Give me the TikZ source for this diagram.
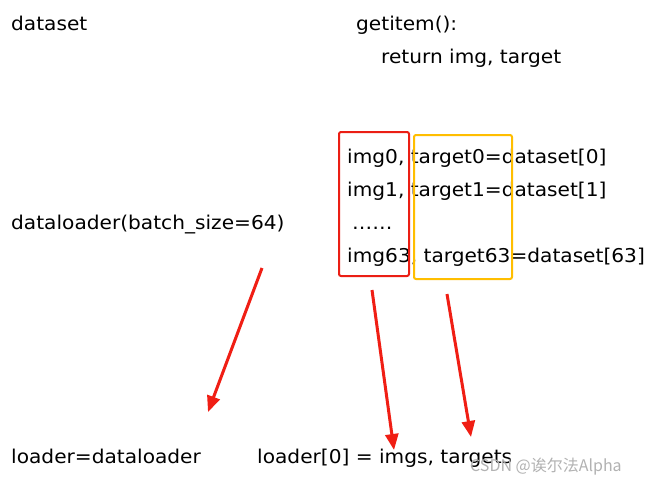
\documentclass[tikz,border=0pt]{standalone}
\usepackage{fontspec}
\setmainfont{DejaVu Sans}[FakeStretch=1.06]
\newfontfamily\cjk{Noto Sans CJK SC}
\usetikzlibrary{arrows.meta}
\begin{document}
\begin{tikzpicture}[x=1pt,y=-1pt,
  txt/.style={anchor=base west,inner sep=0pt,font=\fontsize{19}{21}\selectfont},
  bigarrow/.style={draw={rgb,255:red,240;green,30;blue,20},line width=3pt,-{Triangle[length=16pt,width=13pt]}},
  redbox/.style={draw={rgb,255:red,235;green,30;blue,20},line width=2pt,rounded corners=2pt},
  orbox/.style={draw={rgb,255:red,255;green,190;blue,0},line width=2pt,rounded corners=2pt}]
\useasboundingbox[fill=white] (0,0) rectangle (666,483);
\node[txt] (ds) at (11,30) {dataset};
\node[txt] (gi) at (356,30) {getitem():};
\node[txt] (ret) at (381,63) {return img, target};
\node[txt] (l0) at (347,163) {img0, target0=dataset[0]};
\node[txt] (l1) at (347,196) {img1, target1=dataset[1]};
\node[txt] (l2) at (352,229) {\ldots\ldots};
\node[txt] (l3) at (347,262) {img63, target63=dataset[63]};
\node[txt] (dl) at (11,229) {dataloader(batch\_size=64)};
\node[txt] (ld) at (11,463) {loader=dataloader};
\node[txt] (l0i) at (257,463) {loader[0] = imgs, targets};
\node[draw=none,anchor=base west,inner sep=0pt,text=gray!60,font=\cjk\fontsize{16}{18}\selectfont] (wm) at (470,471) {CSDN @诶尔法Alpha};
\draw[redbox] (339,132) rectangle (409,276);
\draw[orbox] (414,135) rectangle (512,279);
\coordinate (a1s) at (262,268); \coordinate (a1e) at (208,412);
\coordinate (a2s) at (372,290); \coordinate (a2e) at (394,450);
\coordinate (a3s) at (447,294); \coordinate (a3e) at (471,437);
\draw[bigarrow] (a1s) -- (a1e);
\draw[bigarrow] (a2s) -- (a2e);
\draw[bigarrow] (a3s) -- (a3e);
\end{tikzpicture}
\end{document}
